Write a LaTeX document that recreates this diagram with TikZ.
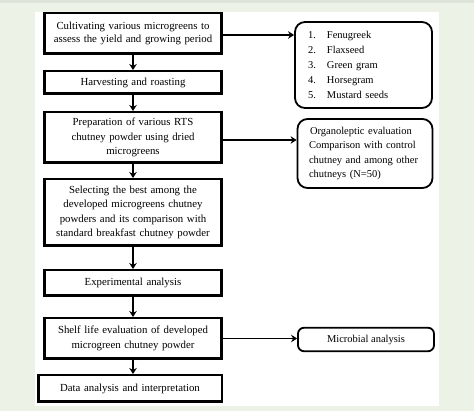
\documentclass[tikz,border=0pt]{standalone}
\usepackage{fontspec}
\setmainfont{Liberation Serif}
\usetikzlibrary{arrows.meta}
\definecolor{bgc}{rgb}{0.93,0.95,0.905}
\definecolor{topc}{rgb}{0.87,0.89,0.85}
\tikzset{
  mainbox/.style={draw=black, line width=2.5pt, fill=white, minimum width=177pt, align=center, inner sep=0pt, text width=176pt, font=\fontsize{10.8}{14.3}\selectfont},
  sidebox/.style={draw=black, line width=1.8pt, fill=white, rounded corners=10pt, inner sep=0pt, font=\fontsize{10.5}{14.5}\selectfont},
  flow/.style={line width=1.6pt, -{Stealth[length=6pt,width=7.5pt]}}
}
\newcommand{\numitem}[2]{\makebox[19pt][l]{#1}#2}
\begin{document}
\begin{tikzpicture}[x=1pt,y=-1pt]
\useasboundingbox (0,0) rectangle (474,411);
\fill[bgc] (0,0) rectangle (474,411);
\fill[topc] (0,0) rectangle (474,3);
\fill[white] (35,12) rectangle (439,406);

\node[mainbox, minimum height=40.5pt] (b1) at (133,33.5) {Cultivating various microgreens to\\[-1pt]assess the yield and growing period};
\node[mainbox, minimum height=22.5pt] (b2) at (133,82.5) {Harvesting and roasting};
\node[mainbox, minimum height=50.5pt] (b3) at (133,137.5) {Preparation of various RTS\\chutney powder using dried\\microgreens};
\node[mainbox, minimum height=66.5pt] (b4) at (133,212.5) {Selecting the best among the\\developed microgreens chutney\\powders and its comparison with\\standard breakfast chutney powder};
\node[mainbox, minimum height=25.5pt] (b5) at (133,283) {Experimental analysis};
\node[mainbox, minimum height=40.5pt] (b6) at (133,338.5) {Shelf life evaluation of developed\\microgreen chutney powder};
\node[mainbox, minimum height=26.5pt, minimum width=183.5pt] (b7) at (130,388.5) {Data analysis and interpretation};

\node[sidebox, minimum width=137pt, minimum height=86pt, text width=111pt, align=left, font=\fontsize{10.5}{15}\selectfont] (s1) at (363.5,65) {%
  \numitem{1.}{Fenugreek}\\
  \numitem{2.}{Flaxseed}\\
  \numitem{3.}{Green gram}\\
  \numitem{4.}{Horsegram}\\
  \numitem{5.}{Mustard seeds}};
\node[sidebox, minimum width=135pt, minimum height=69pt, text width=112pt, align=left] (s2) at (365,153.5) {\hspace*{1pt}Organoleptic evaluation\\Comparison with control\\chutney and among other\\chutneys (N=50)};
\node[sidebox, rounded corners=6pt, minimum width=136pt, minimum height=23.5pt] (s3) at (366,339.5) {Microbial analysis};

\coordinate (a1) at ([yshift=-1.5pt]b1.east);
\coordinate (a3) at ([yshift=-2.5pt]b3.east);

\draw[flow] (b1) -- (b2);
\draw[flow] (b2) -- (b3);
\draw[flow] (b3) -- (b4);
\draw[flow] (b4) -- (b5);
\draw[flow] (b5) -- (b6);
\draw[flow] (b6.south) -- (b6.south |- b7.north);

\draw[flow] (a1) -- (s1.west |- a1);
\draw[flow] (a3) -- (s2.west |- a3);
\draw[flow] (b6.east) -- (s3.west |- b6.east);
\end{tikzpicture}
\end{document}
